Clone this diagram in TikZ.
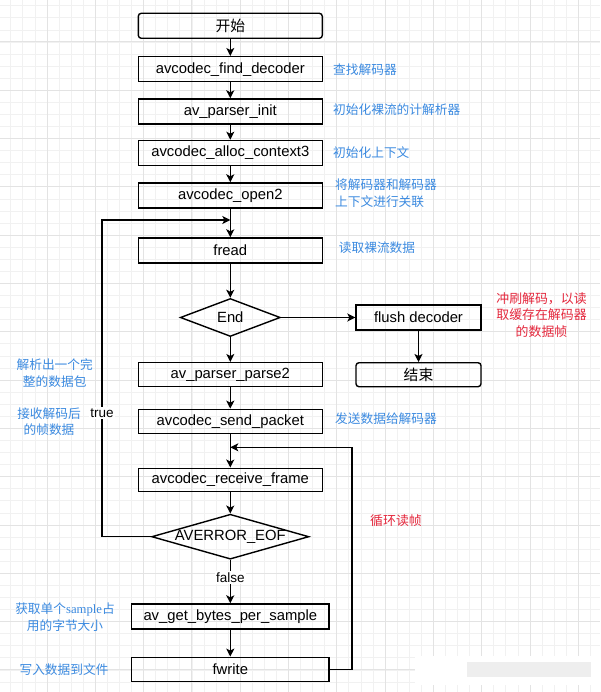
\documentclass[tikz,border=0pt]{standalone}
\usepackage{fontspec}
\setmainfont{Liberation Sans}
\newfontfamily\cjk{Noto Sans CJK SC}
\newfontfamily\serifen{Liberation Serif}
\usetikzlibrary{shapes.geometric,arrows.meta}
\definecolor{noteblue}{HTML}{3B8AE0}
\definecolor{notered}{HTML}{E4273C}
\definecolor{gridminor}{HTML}{F1F1F1}
\definecolor{gridmajor}{HTML}{E3E3E3}
\begin{document}
\begin{tikzpicture}[x=1pt,y=-1pt,
  stepbox/.style={draw=black, line width=1.4pt, minimum width=184pt, minimum height=25pt, inner sep=0pt, font=\fontsize{14.8}{17}\selectfont},
  roundbox/.style={stepbox, rounded corners=3pt},
  decision/.style={diamond, draw=black, line width=1.4pt, inner sep=0pt, aspect=3.5, font=\fontsize{14.8}{17}\selectfont},
  flow/.style={line width=1.3pt, -{Stealth[length=8pt,width=8pt,inset=2pt]}},
  bluenote/.style={text=noteblue, inner sep=0pt, font=\cjk\fontsize{12.7}{16.7}\selectfont},
  rednote/.style={text=notered, inner sep=0pt, font=\cjk\fontsize{12.9}{16.7}\selectfont},
  edgelabel/.style={fill=white, inner sep=1.5pt, font=\fontsize{13.5}{15}\selectfont}
]
\useasboundingbox (0,0) rectangle (600,692);
\fill[white] (0,0) rectangle (600,692);
% grid
\foreach \i in {0,...,50} {
  \pgfmathsetmacro\gx{-1.3+12.075*\i}
  \draw[gridminor, line width=0.8pt] (\gx,0) -- (\gx,692);
}
\foreach \j in {0,...,58} {
  \pgfmathsetmacro\gy{-6.3+12.075*\j}
  \draw[gridminor, line width=0.8pt] (0,\gy) -- (600,\gy);
}
\foreach \i in {0,...,13} {
  \pgfmathsetmacro\gx{-1.3+48.3*\i}
  \draw[gridmajor, line width=1pt] (\gx,0) -- (\gx,692);
}
\foreach \j in {0,...,15} {
  \pgfmathsetmacro\gy{-6.3+48.3*\j}
  \draw[gridmajor, line width=1pt] (0,\gy) -- (600,\gy);
}
% faint watermark band
\fill[white] (415,656) rectangle (600,685);
\fill[gray!13] (467,662) rectangle (591,677);

% nodes
\node[roundbox] (start) at (230.3,25.8) {\cjk 开始};
\node[stepbox] (find) at (230.3,69.2) {avcodec\_find\_decoder};
\node[stepbox] (init) at (230.3,111.5) {av\_parser\_init};
\node[stepbox] (alloc) at (230.3,152.9) {avcodec\_alloc\_context3};
\node[stepbox] (open) at (230.3,195.5) {avcodec\_open2};
\node[stepbox] (fread) at (230.3,250.5) {fread};
\node[decision, minimum width=100pt, minimum height=38pt] (isend) at (230.3,317.5) {End};
\node[stepbox, minimum width=125pt] (flush) at (418.5,317.5) {flush decoder};
\node[roundbox, minimum width=125pt, minimum height=24pt] (finish) at (418.5,374.7) {\cjk 结束};
\node[stepbox, minimum height=24pt] (parse) at (230.3,374.7) {av\_parser\_parse2};
\node[stepbox, minimum height=24pt] (send) at (230.3,421.3) {avcodec\_send\_packet};
\node[stepbox, minimum height=23.5pt] (recv) at (230.3,480) {avcodec\_receive\_frame};
\node[decision, minimum width=143pt, minimum height=41pt] (eof) at (230.3,536.7) {AVERROR\_EOF};
\node[stepbox, minimum width=197.7pt] (bytes) at (230.3,616.5) {av\_get\_bytes\_per\_sample};
\node[stepbox, minimum width=197.7pt, minimum height=24.4pt] (fwrite) at (230.3,669.5) {fwrite};

\coordinate (j1) at (230.3,220);
\coordinate (j2) at (230.3,447.3);
\coordinate (lt) at (102,220);
\coordinate (lb) at (102,536.7);
\coordinate (rb) at (352,669.5);
\coordinate (rt) at (352,447.3);

% connectors
\draw[flow] (start) -- (find);
\draw[flow] (find) -- (init);
\draw[flow] (init) -- (alloc);
\draw[flow] (alloc) -- (open);
\draw[flow] (open) -- (fread);
\draw[flow] (fread) -- (isend);
\draw[flow] (isend) -- (flush);
\draw[flow] (flush) -- (finish);
\draw[flow] (isend) -- (parse);
\draw[flow] (parse) -- (send);
\draw[flow] (send) -- (recv);
\draw[flow] (recv) -- (eof);
\draw[flow] (eof) -- node[edgelabel, pos=0.4] {false} (bytes);
\draw[flow] (bytes) -- (fwrite);
\draw[flow] (eof.west) -- (lb) -- node[edgelabel, pos=0.39] {true} (lt) -- (j1);
\draw[flow] (fwrite.east) -- (rb) -- (rt) -- (j2);

% notes
\node[bluenote, anchor=west] (n1) at (333,70) {查找解码器};
\node[bluenote, anchor=west] (n2) at (333,110) {初始化裸流的计解析器};
\node[bluenote, anchor=west] (n3) at (333,153) {初始化上下文};
\node[bluenote, anchor=west, align=left] (n4) at (335,193.5) {将解码器和解码器\\上下文进行关联};
\node[bluenote, anchor=west] (n5) at (338.7,248) {读取裸流数据};
\node[bluenote, anchor=west] (n6) at (335,419) {发送数据给解码器};
\node[rednote, align=center] (n7) at (541.5,315) {冲刷解码，以读\\取缓存在解码器\\的数据帧};
\node[rednote] (n8) at (396,521) {循环读帧};
\node[bluenote, align=center] (n9) at (54.7,373.3) {解析出一个完\\整的数据包};
\node[bluenote, align=center] (n10) at (49,421.7) {接收解码后\\的帧数据};
\node[bluenote, align=center] (n11) at (65,617) {获取单个{\serifen sample}占\\用的字节大小};
\node[bluenote] (n12) at (64,670) {写入数据到文件};
\end{tikzpicture}
\end{document}
